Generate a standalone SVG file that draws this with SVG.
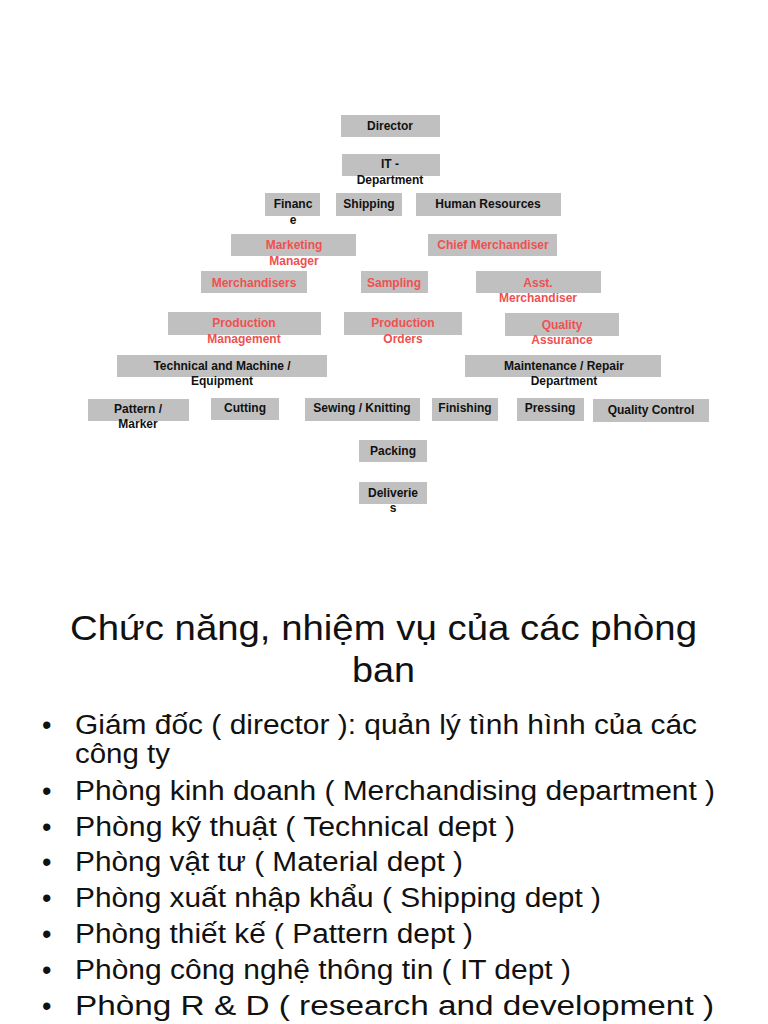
<svg xmlns="http://www.w3.org/2000/svg" width="768" height="1024" viewBox="0 0 768 1024">
<style>
.b{fill:#c0c0c0}
.t{font-family:"Liberation Sans",Arial,sans-serif;font-size:12px;font-weight:bold;text-anchor:middle;fill:#111}
.r{fill:#f05050}
.h{font-family:"Liberation Sans",Arial,sans-serif;font-size:35px;fill:#111}
.l{font-family:"Liberation Sans",Arial,sans-serif;font-size:27px;fill:#111}
</style>
<rect width="768" height="1024" fill="#fff"/>
<g id="connectors"></g>
<g id="n1"><rect class="b" x="341" y="115" width="99" height="22"/><text class="t" x="390" y="130">Director</text></g>
<g id="n2"><rect class="b" x="342" y="154" width="98" height="22"/><text class="t" x="390" y="168">IT -</text><text class="t" x="390" y="184">Department</text></g>
<g id="n3"><rect class="b" x="265" y="193" width="55" height="23"/><text class="t" x="293" y="208">Financ</text><text class="t" x="293" y="224">e</text></g>
<g id="n4"><rect class="b" x="336" y="193" width="66" height="23"/><text class="t" x="369" y="208">Shipping</text></g>
<g id="n5"><rect class="b" x="416" y="193" width="145" height="23"/><text class="t" x="488" y="208">Human Resources</text></g>
<g id="n6"><rect class="b" x="231" y="234" width="125" height="22"/><text class="t r" x="294" y="249">Marketing</text><text class="t r" x="294" y="265">Manager</text></g>
<g id="n7"><rect class="b" x="428" y="234" width="129" height="22"/><text class="t r" x="493" y="249">Chief Merchandiser</text></g>
<g id="n8"><rect class="b" x="201" y="271" width="106" height="22"/><text class="t r" x="254" y="287">Merchandisers</text></g>
<g id="n9"><rect class="b" x="361" y="271" width="67" height="22"/><text class="t r" x="394" y="287">Sampling</text></g>
<g id="n10"><rect class="b" x="476" y="271" width="125" height="22"/><text class="t r" x="538" y="287">Asst.</text><text class="t r" x="538" y="302">Merchandiser</text></g>
<g id="n11"><rect class="b" x="168" y="312" width="153" height="23"/><text class="t r" x="244" y="327">Production</text><text class="t r" x="244" y="343">Management</text></g>
<g id="n12"><rect class="b" x="344" y="312" width="118" height="23"/><text class="t r" x="403" y="327">Production</text><text class="t r" x="403" y="343">Orders</text></g>
<g id="n13"><rect class="b" x="505" y="313" width="114" height="23"/><text class="t r" x="562" y="329">Quality</text><text class="t r" x="562" y="344">Assurance</text></g>
<g id="n14"><rect class="b" x="117" y="355" width="210" height="22"/><text class="t" x="222" y="370">Technical and Machine /</text><text class="t" x="222" y="385">Equipment</text></g>
<g id="n15"><rect class="b" x="465" y="355" width="196" height="22"/><text class="t" x="564" y="370">Maintenance / Repair</text><text class="t" x="564" y="385">Department</text></g>
<g id="n16"><rect class="b" x="88" y="399" width="101" height="22"/><text class="t" x="138" y="413">Pattern /</text><text class="t" x="138" y="428">Marker</text></g>
<g id="n17"><rect class="b" x="211" y="398" width="68" height="22"/><text class="t" x="245" y="412">Cutting</text></g>
<g id="n18"><rect class="b" x="305" y="398" width="115" height="23"/><text class="t" x="362" y="412">Sewing / Knitting</text></g>
<g id="n19"><rect class="b" x="432" y="398" width="66" height="23"/><text class="t" x="465" y="412">Finishing</text></g>
<g id="n20"><rect class="b" x="517" y="398" width="67" height="23"/><text class="t" x="550" y="412">Pressing</text></g>
<g id="n21"><rect class="b" x="593" y="399" width="116" height="23"/><text class="t" x="651" y="414">Quality Control</text></g>
<g id="n22"><rect class="b" x="359" y="440" width="68" height="22"/><text class="t" x="393" y="455">Packing</text></g>
<g id="n23"><rect class="b" x="359" y="482" width="68" height="22"/><text class="t" x="393" y="497">Deliverie</text><text class="t" x="393" y="512">s</text></g>
<text class="h" x="70" y="640" textLength="627" lengthAdjust="spacingAndGlyphs">Chức năng, nhiệm vụ của các phòng</text>
<text class="h" x="352" y="682" textLength="63" lengthAdjust="spacingAndGlyphs">ban</text>
<g class="l">
<text x="42" y="734">•</text><text x="75" y="734" textLength="622" lengthAdjust="spacingAndGlyphs">Giám đốc ( director ): quản lý tình hình của các</text>
<text x="75" y="763" textLength="95" lengthAdjust="spacingAndGlyphs">công ty</text>
<text x="42" y="800">•</text><text x="75" y="800" textLength="640" lengthAdjust="spacingAndGlyphs">Phòng kinh doanh ( Merchandising department )</text>
<text x="42" y="836">•</text><text x="75" y="836" textLength="440" lengthAdjust="spacingAndGlyphs">Phòng kỹ thuật ( Technical dept )</text>
<text x="42" y="871">•</text><text x="75" y="871" textLength="388" lengthAdjust="spacingAndGlyphs">Phòng vật tư ( Material dept )</text>
<text x="42" y="907">•</text><text x="75" y="907" textLength="526" lengthAdjust="spacingAndGlyphs">Phòng xuất nhập khẩu ( Shipping dept )</text>
<text x="42" y="943">•</text><text x="75" y="943" textLength="398" lengthAdjust="spacingAndGlyphs">Phòng thiết kế ( Pattern dept )</text>
<text x="42" y="979">•</text><text x="75" y="979" textLength="496" lengthAdjust="spacingAndGlyphs">Phòng công nghệ thông tin ( IT dept )</text>
<text x="42" y="1015">•</text><text x="75" y="1015" textLength="639" lengthAdjust="spacingAndGlyphs">Phòng R &amp; D ( research and development )</text>
</g>
</svg>
